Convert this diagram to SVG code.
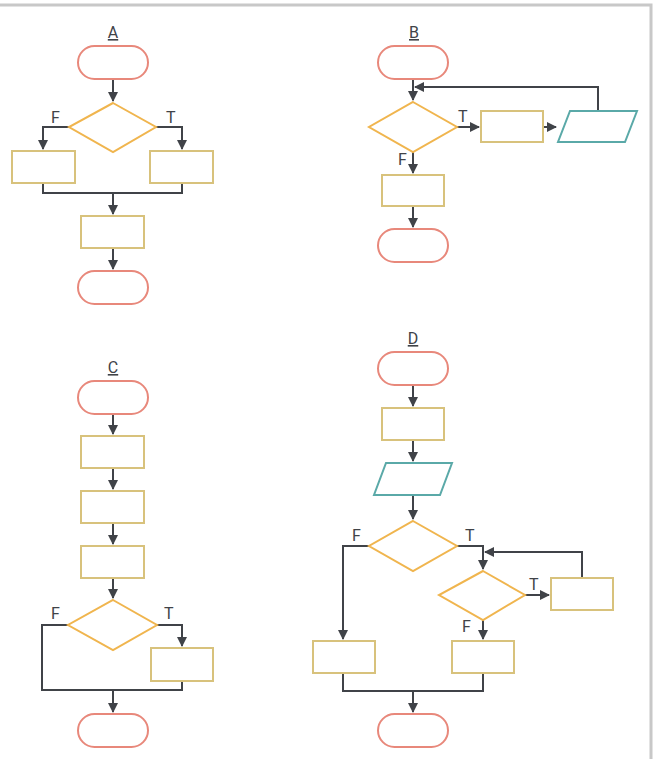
<svg xmlns="http://www.w3.org/2000/svg" width="657" height="759" viewBox="0 0 657 759">
<style>
.t{fill:#fff;stroke:#e8887b;stroke-width:2}
.d{fill:#fff;stroke:#f0b54e;stroke-width:2}
.r{fill:#fff;stroke:#d8c27c;stroke-width:2}
.p{fill:#fff;stroke:#5aa9a8;stroke-width:2}
.c{fill:none;stroke:#404348;stroke-width:2}
text{font-family:Roboto,"Liberation Sans",sans-serif;font-size:16px;fill:#404348}
.u{text-anchor:middle;text-decoration:underline}
</style>
<defs><marker id="a" viewBox="0 0 10 10" refX="9" refY="5" markerWidth="5" markerHeight="5" orient="auto"><path d="M0,0L10,5L0,10z" fill="#404348"/></marker></defs>
<rect width="657" height="759" fill="#fff"/>
<path d="M0,5H651V759" fill="none" stroke="#c8c8c8" stroke-width="3"/>
<g id="connectors" class="c">
<path d="M113,79V101" marker-end="url(#a)"/>
<path d="M69,127H43V149" marker-end="url(#a)"/>
<path d="M156,127H182V149" marker-end="url(#a)"/>
<path d="M43,183V193H182V183"/>
<path d="M113,193V214" marker-end="url(#a)"/>
<path d="M113,248V269" marker-end="url(#a)"/>
<path d="M413,79V100" marker-end="url(#a)"/>
<path d="M457,127H479" marker-end="url(#a)"/>
<path d="M543,127H556" marker-end="url(#a)"/>
<path d="M598,111V87H415" marker-end="url(#a)"/>
<path d="M413,152V173" marker-end="url(#a)"/>
<path d="M413,206V227" marker-end="url(#a)"/>
<path d="M113,414V434" marker-end="url(#a)"/>
<path d="M113,468V489" marker-end="url(#a)"/>
<path d="M113,523V544" marker-end="url(#a)"/>
<path d="M113,578V598" marker-end="url(#a)"/>
<path d="M157,625H182V646" marker-end="url(#a)"/>
<path d="M68,625H42V690H182V681"/>
<path d="M113,690V712" marker-end="url(#a)"/>
<path d="M413,385V406" marker-end="url(#a)"/>
<path d="M413,440V461" marker-end="url(#a)"/>
<path d="M413,495V519" marker-end="url(#a)"/>
<path d="M369,546H343V639" marker-end="url(#a)"/>
<path d="M457,546H483V569" marker-end="url(#a)"/>
<path d="M525,595H549" marker-end="url(#a)"/>
<path d="M582,578V552H485" marker-end="url(#a)"/>
<path d="M483,620V639" marker-end="url(#a)"/>
<path d="M343,673V691H483V673"/>
<path d="M413,691V712" marker-end="url(#a)"/>
</g>
<g id="A">
<text class="u" x="113" y="38">A</text>
<rect id="a1" class="t" x="78" y="46" width="70" height="33" rx="16.5"/>
<polygon id="a2" class="d" points="113,103 156,127 113,152 69,127"/>
<rect id="a3" class="r" x="12" y="151" width="63" height="32"/>
<rect id="a4" class="r" x="150" y="151" width="63" height="32"/>
<rect id="a5" class="r" x="81" y="216" width="63" height="32"/>
<rect id="a6" class="t" x="78" y="271" width="70" height="33" rx="16.5"/>
<text x="51" y="123">F</text><text x="166" y="123">T</text>
</g>
<g id="B">
<text class="u" x="414" y="38">B</text>
<rect class="t" x="378" y="46" width="70" height="33" rx="16.5"/>
<polygon class="d" points="413,102 457,127 413,152 369,127"/>
<rect class="r" x="481" y="111" width="62" height="31"/>
<polygon class="p" points="570,111 637,111 625,142 558,142"/>
<rect class="r" x="382" y="175" width="62" height="31"/>
<rect class="t" x="378" y="229" width="70" height="33" rx="16.5"/>
<text x="458" y="122">T</text><text x="398" y="165">F</text>
</g>
<g id="C">
<text class="u" x="113" y="373">C</text>
<rect class="t" x="78" y="381" width="70" height="33" rx="16.5"/>
<rect class="r" x="81" y="436" width="63" height="32"/>
<rect class="r" x="81" y="491" width="63" height="32"/>
<rect class="r" x="81" y="546" width="63" height="32"/>
<polygon class="d" points="113,600 157,625 113,650 68,625"/>
<rect class="r" x="151" y="648" width="62" height="33"/>
<rect class="t" x="78" y="714" width="70" height="33" rx="16.5"/>
<text x="51" y="619">F</text><text x="164" y="619">T</text>
</g>
<g id="D">
<text class="u" x="413" y="344">D</text>
<rect class="t" x="378" y="352" width="70" height="33" rx="16.5"/>
<rect class="r" x="382" y="408" width="62" height="32"/>
<polygon class="p" points="386,463 452,463 440,495 374,495"/>
<polygon class="d" points="413,521 457,546 413,571 369,546"/>
<polygon class="d" points="483,571 525,595 483,620 439,595"/>
<rect class="r" x="551" y="578" width="62" height="32"/>
<rect class="r" x="313" y="641" width="62" height="32"/>
<rect class="r" x="452" y="641" width="62" height="32"/>
<rect class="t" x="378" y="714" width="70" height="33" rx="16.5"/>
<text x="352" y="541">F</text><text x="465" y="541">T</text>
<text x="529" y="590">T</text><text x="462" y="632">F</text>
</g>
</svg>
